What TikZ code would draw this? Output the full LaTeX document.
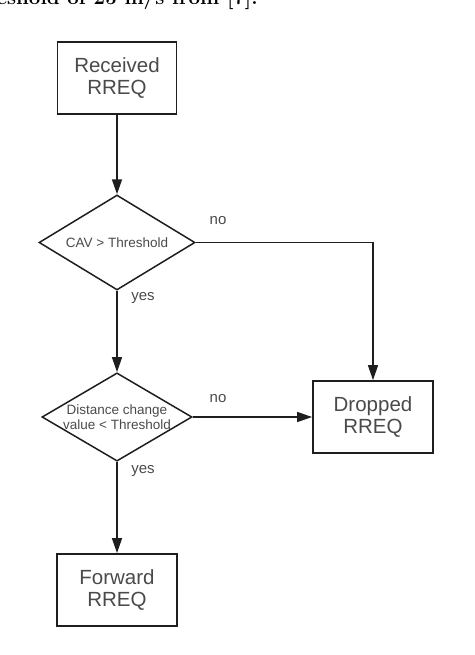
\documentclass[tikz,border=0pt]{standalone}
\usepackage{fontspec}
\newfontfamily\arial{Liberation Sans}
\usetikzlibrary{shapes.geometric,arrows.meta}
\definecolor{txt}{HTML}{4A4A4A}
\definecolor{ln}{HTML}{1E1E1E}
\tikzset{
  boxnode/.style={draw=ln,line width=1.8pt,minimum width=119pt,minimum height=72pt,inner sep=0pt,
    align=center,font=\arial\fontsize{20.5}{24}\selectfont,text=txt},
  decnode/.style={draw=ln,line width=1.5pt,diamond,inner sep=0pt,align=center,
    font=\arial\fontsize{13.5}{15}\selectfont,text=txt},
  lbl/.style={font=\arial\fontsize{15}{17}\selectfont,text=txt,inner sep=0pt},
  conn/.style={draw=ln,line width=1.6pt},
  arr/.style={conn,-{Triangle[length=15pt,width=10pt]}}
}
\begin{document}
\begin{tikzpicture}[x=1pt,y=-1pt]
\useasboundingbox (0,0) rectangle (474,655);
\begin{scope}
\clip (0,0) rectangle (474,655);
\node[anchor=base east,inner sep=0pt,font=\bfseries\fontsize{20.5}{24}\selectfont] (cap) at (258,5) {threshold of 25 m/s from [7].};
\end{scope}
\node[boxnode] (recv) at (117,78) {Received\\[-2pt]RREQ};
\node[decnode,minimum width=156pt,minimum height=95pt,aspect=1.64] (d1) at (117,242.5) {CAV > Threshold};
\node[decnode,minimum width=150pt,minimum height=88pt,aspect=1.7] (d2) at (117,417) {Distance change\\value < Threshold};
\node[boxnode,minimum width=120pt] (drop) at (373,417) {Dropped\\[-2pt]RREQ};
\node[boxnode,minimum width=120pt] (fwd) at (117,590) {Forward\\[-2pt]RREQ};
\draw[arr] (recv.south) -- (d1.north);
\draw[arr] (d1.south) -- (d2.north);
\draw[arr] (d2.south) -- (fwd.north);
\coordinate (c1) at (drop.north |- d1.east);
\draw[arr] (d1.east) -- (c1) -- (drop.north);
\draw[arr] (d2.east) -- (drop.west);
\node[lbl] (no1) at (218,221) {no};
\node[lbl] (yes1) at (143,298) {yes};
\node[lbl] (no2) at (218,399) {no};
\node[lbl] (yes2) at (143,471) {yes};
\end{tikzpicture}
\end{document}
